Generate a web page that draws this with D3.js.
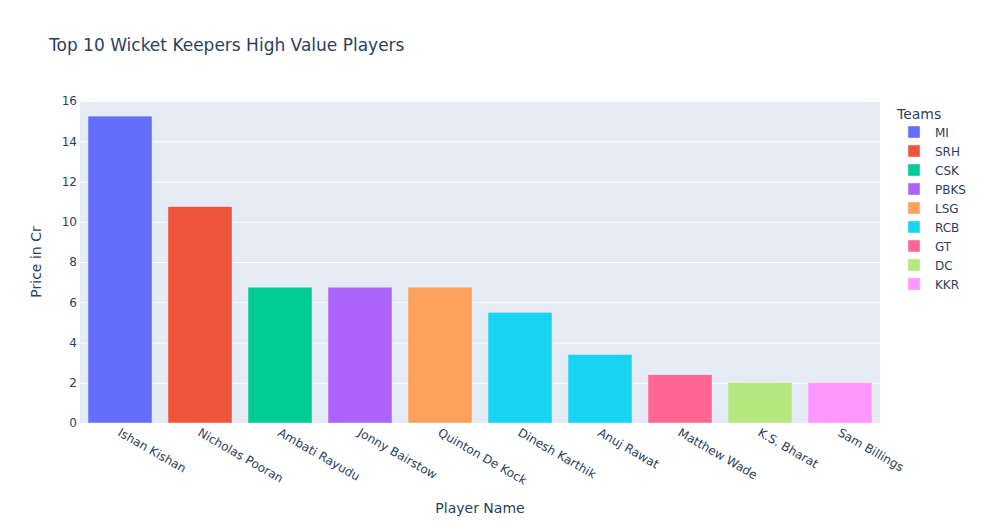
<!DOCTYPE html>
<html>
<head>
<meta charset="utf-8">
<script src="https://cdn.jsdelivr.net/npm/d3@7"></script>
<style>
  body { margin: 0; background: #fff; }
  text { font-family: "DejaVu Sans", verdana, arial, sans-serif; fill: #2a3f5f; }
</style>
</head>
<body>
<div class="chart"></div>
<script>
const players = ["Ishan Kishan", "Nicholas Pooran", "Ambati Rayudu", "Jonny Bairstow", "Quinton De Kock",
  "Dinesh Karthik", "Anuj Rawat", "Matthew Wade", "K.S. Bharat", "Sam Billings"];
const prices = [15.25, 10.75, 6.75, 6.75, 6.75, 5.5, 3.4, 2.4, 2, 2];
const playerTeams = ["MI", "SRH", "CSK", "PBKS", "LSG", "RCB", "RCB", "GT", "DC", "KKR"];
const teams = ["MI", "SRH", "CSK", "PBKS", "LSG", "RCB", "GT", "DC", "KKR"];
const teamColors = ["#636efa", "#EF553B", "#00cc96", "#ab63fa", "#FFA15A", "#19d3f3", "#FF6692", "#B6E880", "#FF97FF"];
const yTicks = [0, 2, 4, 6, 8, 10, 12, 14, 16];

const margin = { top: 101, right: 103, bottom: 102, left: 80 };
const fullWidth = 983, fullHeight = 525;
const width = fullWidth - margin.left - margin.right;
const height = fullHeight - margin.top - margin.bottom;

const svg = d3.select('.chart')
  .append('svg')
    .attr('width', fullWidth)
    .attr('height', fullHeight);

const g = svg.append('g')
  .attr('transform', `translate(${margin.left}, ${margin.top})`);

g.append('rect')
  .attr('width', width)
  .attr('height', height)
  .style('fill', '#E5ECF6');

const xScale = d3.scaleBand()
  .domain(players)
  .range([0, width])
  .paddingInner(0.2)
  .paddingOuter(0.1);

const yScale = d3.scaleLinear()
  .domain([0, 16])
  .range([height, 0]);

const color = d3.scaleOrdinal().domain(teams).range(teamColors);

// grid + y labels
const yAxis = d3.axisLeft(yScale).tickValues(yTicks).tickSize(-width).tickPadding(3);
g.append('g')
  .call(yAxis)
  .call(a => a.select('.domain').remove())
  .call(a => a.selectAll('line').style('stroke', '#fff').style('stroke-width', 1))
  .call(a => a.selectAll('text').style('font-size', '12px').style('fill', '#2a3f5f').attr('x', -3));

// bars
g.selectAll('rect.bar')
  .data(players)
  .enter()
  .append('rect')
    .attr('class', 'bar')
    .attr('x', d => xScale(d))
    .attr('y', (d, i) => yScale(prices[i]))
    .attr('width', xScale.bandwidth())
    .attr('height', (d, i) => height - yScale(prices[i]))
    .style('fill', (d, i) => color(playerTeams[i]))
    .style('stroke', '#E5ECF6')
    .style('stroke-width', 0.5);

// x axis
const xAxis = d3.axisBottom(xScale).tickSize(0).tickPadding(0);
g.append('g')
  .attr('transform', `translate(0, ${height})`)
  .call(xAxis)
  .call(a => a.select('.domain').remove())
  .selectAll('text')
    .style('font-size', '12px')
    .style('fill', '#2a3f5f')
    .style('text-anchor', 'start')
    .attr('dy', null)
    .attr('y', 0)
    .attr('transform', 'translate(-3, 12) rotate(30)');

// titles
svg.append('text')
  .attr('x', 49)
  .attr('y', 51)
  .style('font-size', '17px')
  .text('Top 10 Wicket Keepers High Value Players');

svg.append('text')
  .attr('x', margin.left + width / 2)
  .attr('y', 513)
  .attr('text-anchor', 'middle')
  .style('font-size', '14px')
  .text('Player Name');

svg.append('text')
  .attr('transform', `translate(41, ${margin.top + height / 2}) rotate(-90)`)
  .attr('text-anchor', 'middle')
  .style('font-size', '14px')
  .text('Price in Cr');

// legend
const legend = svg.append('g').attr('transform', 'translate(897, 0)');
legend.append('text')
  .attr('x', 0)
  .attr('y', 119)
  .style('font-size', '14px')
  .text('Teams');

const item = legend.selectAll('g.item')
  .data(teams)
  .enter()
  .append('g')
    .attr('class', 'item')
    .attr('transform', (d, i) => `translate(0, ${132 + i * 19})`);

item.append('rect')
  .attr('x', 11)
  .attr('y', -6)
  .attr('width', 12)
  .attr('height', 12)
  .style('fill', d => color(d))
  .style('stroke', '#E5ECF6')
  .style('stroke-width', 0.5);

item.append('text')
  .attr('x', 38)
  .attr('y', 4.5)
  .style('font-size', '12px')
  .text(d => d);
</script>
</body>
</html>
